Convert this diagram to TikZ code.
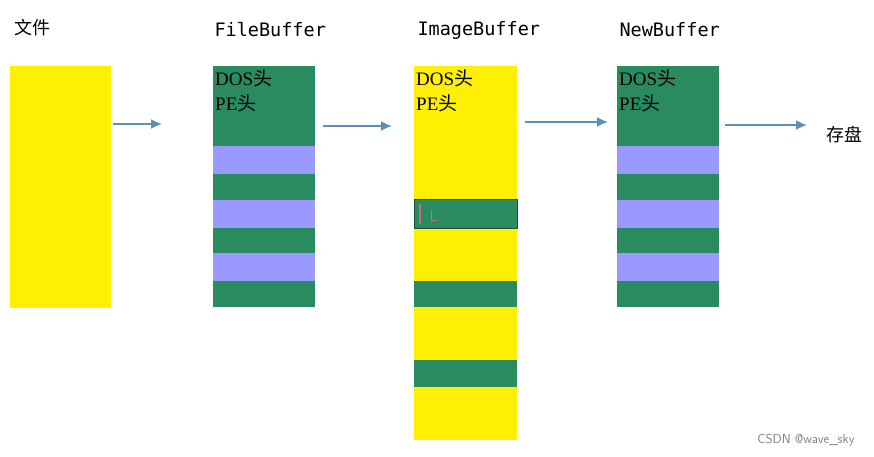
\documentclass[tikz,border=0pt]{standalone}
\usepackage{fontspec}
\usetikzlibrary{arrows.meta}
\setmainfont{Liberation Serif}
\setmonofont{DejaVu Sans Mono}
\newfontfamily\cjk{Noto Sans CJK SC}
\definecolor{yel}{HTML}{FFEF00}
\definecolor{grn}{HTML}{2A8A60}
\definecolor{lav}{HTML}{9999FF}
\definecolor{arr}{HTML}{5F8FB5}
\definecolor{cursorcol}{HTML}{C07088}
\begin{document}
\begin{tikzpicture}[x=1pt,y=-1pt,
  arrowline/.style={draw=arr,line width=1.8pt,-{Latex[length=11pt,width=10pt]}},
  hdr/.style={font=\ttfamily\fontsize{18.5}{18.5}\selectfont,anchor=west},
  cell/.style={font=\fontsize{19}{25}\selectfont,anchor=north west,inner sep=0pt,align=left}]
\useasboundingbox (0,0) rectangle (874,456);
\fill[white] (0,0) rectangle (874,456);
% columns
\fill[yel] (10,66) rectangle (111,308);
\foreach \x/\n in {213/fb,617/nb}{
  \fill[grn] (\x,66) rectangle ++(102,241);
  \foreach \a/\b in {146/174,200/228,253/281}
    \fill[lav] (\x,\a) rectangle (\x+102,\b);
  \node[cell] (\n) at (\x+2,70) {DOS{\cjk 头}\\PE{\cjk 头}};
}
\fill[yel] (414,66) rectangle (517,440);
\fill[grn] (414,281) rectangle (517,307);
\fill[grn] (414,360) rectangle (517,387);
\fill[grn] (414,199) rectangle (517,228);
\draw[grn!60!black,line width=1pt] (414,199) rectangle (517,228);
\draw[cursorcol,line width=1.2pt] (420,204) -- (420,224);
\draw[cursorcol,line width=1pt] (431,210) -- (431,220) -- (437,220);
\node[cell] (ib) at (416,70) {DOS{\cjk 头}\\PE{\cjk 头}};
% headers
\node[font=\cjk\fontsize{18}{18}\selectfont] (h0) at (32,28) {文件};
\node[hdr] (h1) at (211,30) {FileBuffer};
\node[hdr] (h2) at (414,30) {ImageBuffer};
\node[hdr] (h3) at (616,30) {NewBuffer};
\node[font=\cjk\fontsize{18}{18}\selectfont] (save) at (844,135) {存盘};
\node[font=\sffamily\fontsize{13}{13}\selectfont,text=gray] (wm) at (806,440) {CSDN @wave\_sky};
% arrows
\coordinate (a1s) at (113,124); \coordinate (a1e) at (162,124);
\coordinate (a2s) at (323,126); \coordinate (a2e) at (392,126);
\coordinate (a3s) at (525,122); \coordinate (a3e) at (608,122);
\coordinate (a4s) at (725,125); \coordinate (a4e) at (807,125);
\draw[arrowline] (a1s)--(a1e);
\draw[arrowline] (a2s)--(a2e);
\draw[arrowline] (a3s)--(a3e);
\draw[arrowline] (a4s)--(a4e);
\end{tikzpicture}
\end{document}
